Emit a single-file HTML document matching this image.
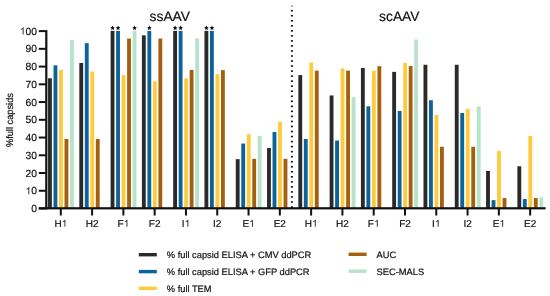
<!DOCTYPE html>
<html><head><meta charset="utf-8"><style>html,body{margin:0;padding:0;background:#fff;}svg{display:block;will-change:transform;}text{font-family:"Liberation Sans", sans-serif;fill:#111;stroke:#111;stroke-width:0.2px;text-rendering:geometricPrecision;}</style></head><body>
<svg width="550" height="296" viewBox="0 0 550 296">
<rect width="550" height="296" fill="#fff"/>
<rect x="48.02" y="78.27" width="3.85" height="130.03" fill="#2a2a2a"/>
<rect x="53.52" y="65.32" width="3.85" height="142.98" fill="#0b639a"/>
<rect x="59.02" y="69.93" width="3.85" height="138.37" fill="#fdcb3c"/>
<rect x="64.52" y="138.94" width="3.85" height="69.36" fill="#a5600f"/>
<rect x="70.02" y="40.12" width="3.85" height="168.18" fill="#b7e2cb"/>
<rect x="79.32" y="63.01" width="3.85" height="145.29" fill="#2a2a2a"/>
<rect x="84.82" y="43.14" width="3.85" height="165.16" fill="#0b639a"/>
<rect x="90.32" y="71.52" width="3.85" height="136.78" fill="#fdcb3c"/>
<rect x="95.82" y="138.94" width="3.85" height="69.36" fill="#a5600f"/>
<rect x="110.61" y="30.9" width="3.85" height="177.4" fill="#2a2a2a"/>
<rect x="116.11" y="30.9" width="3.85" height="177.4" fill="#0b639a"/>
<rect x="121.61" y="75.07" width="3.85" height="133.23" fill="#fdcb3c"/>
<rect x="127.11" y="38.53" width="3.85" height="169.77" fill="#a5600f"/>
<rect x="132.6" y="30.9" width="3.85" height="177.4" fill="#b7e2cb"/>
<rect x="141.9" y="35.34" width="3.85" height="172.97" fill="#2a2a2a"/>
<rect x="147.4" y="30.9" width="3.85" height="177.4" fill="#0b639a"/>
<rect x="152.9" y="81.28" width="3.85" height="127.02" fill="#fdcb3c"/>
<rect x="158.4" y="38.53" width="3.85" height="169.77" fill="#a5600f"/>
<rect x="173.18" y="30.9" width="3.85" height="177.4" fill="#2a2a2a"/>
<rect x="178.68" y="30.9" width="3.85" height="177.4" fill="#0b639a"/>
<rect x="184.18" y="78.27" width="3.85" height="130.03" fill="#fdcb3c"/>
<rect x="189.68" y="69.93" width="3.85" height="138.37" fill="#a5600f"/>
<rect x="195.18" y="38.35" width="3.85" height="169.95" fill="#b7e2cb"/>
<rect x="204.47" y="30.9" width="3.85" height="177.4" fill="#2a2a2a"/>
<rect x="209.97" y="30.9" width="3.85" height="177.4" fill="#0b639a"/>
<rect x="215.47" y="74.19" width="3.85" height="134.11" fill="#fdcb3c"/>
<rect x="220.97" y="70.11" width="3.85" height="138.19" fill="#a5600f"/>
<rect x="235.77" y="159.16" width="3.85" height="49.14" fill="#2a2a2a"/>
<rect x="241.27" y="143.55" width="3.85" height="64.75" fill="#0b639a"/>
<rect x="246.77" y="134.15" width="3.85" height="74.15" fill="#fdcb3c"/>
<rect x="252.27" y="158.81" width="3.85" height="49.49" fill="#a5600f"/>
<rect x="257.77" y="135.92" width="3.85" height="72.38" fill="#b7e2cb"/>
<rect x="267.05" y="147.98" width="3.85" height="60.32" fill="#2a2a2a"/>
<rect x="272.55" y="132.02" width="3.85" height="76.28" fill="#0b639a"/>
<rect x="278.05" y="121.73" width="3.85" height="86.57" fill="#fdcb3c"/>
<rect x="283.55" y="158.81" width="3.85" height="49.49" fill="#a5600f"/>
<rect x="298.34" y="75.07" width="3.85" height="133.23" fill="#2a2a2a"/>
<rect x="303.84" y="138.94" width="3.85" height="69.36" fill="#0b639a"/>
<rect x="309.34" y="62.48" width="3.85" height="145.82" fill="#fdcb3c"/>
<rect x="314.84" y="70.64" width="3.85" height="137.66" fill="#a5600f"/>
<rect x="329.63" y="95.47" width="3.85" height="112.83" fill="#2a2a2a"/>
<rect x="335.13" y="140.53" width="3.85" height="67.77" fill="#0b639a"/>
<rect x="340.63" y="68.33" width="3.85" height="139.97" fill="#fdcb3c"/>
<rect x="346.13" y="70.64" width="3.85" height="137.66" fill="#a5600f"/>
<rect x="351.63" y="97.25" width="3.85" height="111.05" fill="#b7e2cb"/>
<rect x="360.92" y="67.98" width="3.85" height="140.32" fill="#2a2a2a"/>
<rect x="366.42" y="106.3" width="3.85" height="102" fill="#0b639a"/>
<rect x="371.92" y="70.81" width="3.85" height="137.49" fill="#fdcb3c"/>
<rect x="377.42" y="66.2" width="3.85" height="142.1" fill="#a5600f"/>
<rect x="392.21" y="71.88" width="3.85" height="136.42" fill="#2a2a2a"/>
<rect x="397.71" y="110.91" width="3.85" height="97.39" fill="#0b639a"/>
<rect x="403.21" y="63.01" width="3.85" height="145.29" fill="#fdcb3c"/>
<rect x="408.71" y="66.03" width="3.85" height="142.27" fill="#a5600f"/>
<rect x="414.21" y="39.42" width="3.85" height="168.88" fill="#b7e2cb"/>
<rect x="423.5" y="64.78" width="3.85" height="143.52" fill="#2a2a2a"/>
<rect x="429" y="100.26" width="3.85" height="108.04" fill="#0b639a"/>
<rect x="434.5" y="114.99" width="3.85" height="93.31" fill="#fdcb3c"/>
<rect x="440" y="146.74" width="3.85" height="61.56" fill="#a5600f"/>
<rect x="454.79" y="64.78" width="3.85" height="143.52" fill="#2a2a2a"/>
<rect x="460.29" y="113.04" width="3.85" height="95.26" fill="#0b639a"/>
<rect x="465.79" y="108.96" width="3.85" height="99.34" fill="#fdcb3c"/>
<rect x="471.29" y="146.74" width="3.85" height="61.56" fill="#a5600f"/>
<rect x="476.79" y="106.47" width="3.85" height="101.83" fill="#b7e2cb"/>
<rect x="486.08" y="170.87" width="3.85" height="37.43" fill="#2a2a2a"/>
<rect x="491.58" y="200.14" width="3.85" height="8.16" fill="#0b639a"/>
<rect x="497.08" y="150.82" width="3.85" height="57.48" fill="#fdcb3c"/>
<rect x="502.58" y="198.01" width="3.85" height="10.29" fill="#a5600f"/>
<rect x="517.38" y="166.26" width="3.85" height="42.04" fill="#2a2a2a"/>
<rect x="522.88" y="199.08" width="3.85" height="9.22" fill="#0b639a"/>
<rect x="528.38" y="135.92" width="3.85" height="72.38" fill="#fdcb3c"/>
<rect x="533.88" y="198.01" width="3.85" height="10.29" fill="#a5600f"/>
<rect x="539.38" y="197.48" width="3.85" height="10.82" fill="#b7e2cb"/>
<path d="M112.58 25.6 L113.29 27.03 L114.86 27.26 L113.72 28.37 L113.99 29.94 L112.58 29.2 L111.17 29.94 L111.44 28.37 L110.3 27.26 L111.87 27.03Z" fill="#111"/>
<path d="M118.08 25.6 L118.79 27.03 L120.36 27.26 L119.22 28.37 L119.49 29.94 L118.08 29.2 L116.67 29.94 L116.94 28.37 L115.8 27.26 L117.37 27.03Z" fill="#111"/>
<path d="M134.58 25.6 L135.29 27.03 L136.86 27.26 L135.72 28.37 L135.99 29.94 L134.58 29.2 L133.17 29.94 L133.44 28.37 L132.3 27.26 L133.87 27.03Z" fill="#111"/>
<path d="M149.37 25.6 L150.08 27.03 L151.65 27.26 L150.51 28.37 L150.78 29.94 L149.37 29.2 L147.96 29.94 L148.23 28.37 L147.09 27.26 L148.66 27.03Z" fill="#111"/>
<path d="M175.16 25.6 L175.87 27.03 L177.44 27.26 L176.3 28.37 L176.57 29.94 L175.16 29.2 L173.75 29.94 L174.02 28.37 L172.88 27.26 L174.45 27.03Z" fill="#111"/>
<path d="M180.66 25.6 L181.37 27.03 L182.94 27.26 L181.8 28.37 L182.07 29.94 L180.66 29.2 L179.25 29.94 L179.52 28.37 L178.38 27.26 L179.95 27.03Z" fill="#111"/>
<path d="M206.45 25.6 L207.16 27.03 L208.73 27.26 L207.59 28.37 L207.86 29.94 L206.45 29.2 L205.04 29.94 L205.31 28.37 L204.17 27.26 L205.74 27.03Z" fill="#111"/>
<path d="M211.95 25.6 L212.66 27.03 L214.23 27.26 L213.09 28.37 L213.36 29.94 L211.95 29.2 L210.54 29.94 L210.81 28.37 L209.67 27.26 L211.24 27.03Z" fill="#111"/>
<rect x="290.9" y="5.3" width="2" height="1.6" fill="#111" opacity="0.4"/>
<rect x="290.9" y="9.9" width="2" height="1.6" fill="#111" opacity="1"/>
<rect x="290.9" y="14.93" width="2" height="1.6" fill="#111" opacity="1"/>
<rect x="290.9" y="19.97" width="2" height="1.6" fill="#111" opacity="1"/>
<rect x="290.9" y="25" width="2" height="1.6" fill="#111" opacity="1"/>
<rect x="290.9" y="30.04" width="2" height="1.6" fill="#111" opacity="1"/>
<rect x="290.9" y="35.07" width="2" height="1.6" fill="#111" opacity="1"/>
<rect x="290.9" y="40.1" width="2" height="1.6" fill="#111" opacity="1"/>
<rect x="290.9" y="45.14" width="2" height="1.6" fill="#111" opacity="1"/>
<rect x="290.9" y="50.17" width="2" height="1.6" fill="#111" opacity="1"/>
<rect x="290.9" y="55.21" width="2" height="1.6" fill="#111" opacity="1"/>
<rect x="290.9" y="60.24" width="2" height="1.6" fill="#111" opacity="1"/>
<rect x="290.9" y="65.27" width="2" height="1.6" fill="#111" opacity="1"/>
<rect x="290.9" y="70.31" width="2" height="1.6" fill="#111" opacity="1"/>
<rect x="290.9" y="75.34" width="2" height="1.6" fill="#111" opacity="1"/>
<rect x="290.9" y="80.38" width="2" height="1.6" fill="#111" opacity="1"/>
<rect x="290.9" y="85.41" width="2" height="1.6" fill="#111" opacity="1"/>
<rect x="290.9" y="90.44" width="2" height="1.6" fill="#111" opacity="1"/>
<rect x="290.9" y="95.48" width="2" height="1.6" fill="#111" opacity="1"/>
<rect x="290.9" y="100.51" width="2" height="1.6" fill="#111" opacity="1"/>
<rect x="290.9" y="105.55" width="2" height="1.6" fill="#111" opacity="1"/>
<rect x="290.9" y="110.58" width="2" height="1.6" fill="#111" opacity="1"/>
<rect x="290.9" y="115.61" width="2" height="1.6" fill="#111" opacity="1"/>
<rect x="290.9" y="120.65" width="2" height="1.6" fill="#111" opacity="1"/>
<rect x="290.9" y="125.68" width="2" height="1.6" fill="#111" opacity="1"/>
<rect x="290.9" y="130.72" width="2" height="1.6" fill="#111" opacity="1"/>
<rect x="290.9" y="135.75" width="2" height="1.6" fill="#111" opacity="1"/>
<rect x="290.9" y="140.78" width="2" height="1.6" fill="#111" opacity="1"/>
<rect x="290.9" y="145.82" width="2" height="1.6" fill="#111" opacity="1"/>
<rect x="290.9" y="150.85" width="2" height="1.6" fill="#111" opacity="1"/>
<rect x="290.9" y="155.89" width="2" height="1.6" fill="#111" opacity="1"/>
<rect x="290.9" y="160.92" width="2" height="1.6" fill="#111" opacity="1"/>
<rect x="290.9" y="165.95" width="2" height="1.6" fill="#111" opacity="1"/>
<rect x="290.9" y="170.99" width="2" height="1.6" fill="#111" opacity="1"/>
<rect x="290.9" y="176.02" width="2" height="1.6" fill="#111" opacity="1"/>
<rect x="290.9" y="181.06" width="2" height="1.6" fill="#111" opacity="1"/>
<rect x="290.9" y="186.09" width="2" height="1.6" fill="#111" opacity="1"/>
<rect x="290.9" y="191.12" width="2" height="1.6" fill="#111" opacity="1"/>
<rect x="290.9" y="196.16" width="2" height="1.6" fill="#111" opacity="1"/>
<rect x="290.9" y="201.19" width="2" height="1.6" fill="#111" opacity="1"/>
<rect x="290.9" y="206.23" width="2" height="1.6" fill="#111" opacity="1"/>
<rect x="45.2" y="30.1" width="2.2" height="179.3" fill="#111"/>
<rect x="38.8" y="207.2" width="506.8" height="2.2" fill="#111"/>
<rect x="38.8" y="207.5" width="7" height="2" fill="#111"/>
<text x="36.9" y="212" font-size="10.3" text-anchor="end">0</text>
<rect x="38.8" y="189.76" width="7" height="2" fill="#111"/>
<path transform="translate(25.45 194.26) scale(10.3 -10.3)" d="M0.373 0L0.285 0L0.285 0.56Q0.253 0.53 0.2 0.498Q0.148 0.466 0.109 0.445L0.109 0.53Q0.183 0.565 0.239 0.618Q0.305 0.67 0.332 0.716L0.373 0.716Z" fill="#1a1a1a"/>
<text x="31.17" y="194.26" font-size="10.3">0</text>
<rect x="38.8" y="172.02" width="7" height="2" fill="#111"/>
<text x="36.9" y="176.52" font-size="10.3" text-anchor="end">20</text>
<rect x="38.8" y="154.28" width="7" height="2" fill="#111"/>
<text x="36.9" y="158.78" font-size="10.3" text-anchor="end">30</text>
<rect x="38.8" y="136.54" width="7" height="2" fill="#111"/>
<text x="36.9" y="141.04" font-size="10.3" text-anchor="end">40</text>
<rect x="38.8" y="118.8" width="7" height="2" fill="#111"/>
<text x="36.9" y="123.3" font-size="10.3" text-anchor="end">50</text>
<rect x="38.8" y="101.06" width="7" height="2" fill="#111"/>
<text x="36.9" y="105.56" font-size="10.3" text-anchor="end">60</text>
<rect x="38.8" y="83.32" width="7" height="2" fill="#111"/>
<text x="36.9" y="87.82" font-size="10.3" text-anchor="end">70</text>
<rect x="38.8" y="65.58" width="7" height="2" fill="#111"/>
<text x="36.9" y="70.08" font-size="10.3" text-anchor="end">80</text>
<rect x="38.8" y="47.84" width="7" height="2" fill="#111"/>
<text x="36.9" y="52.34" font-size="10.3" text-anchor="end">90</text>
<rect x="38.8" y="30.1" width="7" height="2" fill="#111"/>
<path transform="translate(19.72 34.6) scale(10.3 -10.3)" d="M0.373 0L0.285 0L0.285 0.56Q0.253 0.53 0.2 0.498Q0.148 0.466 0.109 0.445L0.109 0.53Q0.183 0.565 0.239 0.618Q0.305 0.67 0.332 0.716L0.373 0.716Z" fill="#1a1a1a"/>
<text x="25.45" y="34.6" font-size="10.3">00</text>
<rect x="59.8" y="208" width="2" height="7.5" fill="#111"/>
<text x="54.41" y="226.8" font-size="10">H</text>
<path transform="translate(61.63 226.8) scale(10 -10)" d="M0.373 0L0.285 0L0.285 0.56Q0.253 0.53 0.2 0.498Q0.148 0.466 0.109 0.445L0.109 0.53Q0.183 0.565 0.239 0.618Q0.305 0.67 0.332 0.716L0.373 0.716Z" fill="#1a1a1a"/>
<rect x="91.09" y="208" width="2" height="7.5" fill="#111"/>
<text x="92.09" y="226.8" font-size="10" text-anchor="middle">H2</text>
<rect x="122.38" y="208" width="2" height="7.5" fill="#111"/>
<text x="117.55" y="226.8" font-size="10">F</text>
<path transform="translate(123.66 226.8) scale(10 -10)" d="M0.373 0L0.285 0L0.285 0.56Q0.253 0.53 0.2 0.498Q0.148 0.466 0.109 0.445L0.109 0.53Q0.183 0.565 0.239 0.618Q0.305 0.67 0.332 0.716L0.373 0.716Z" fill="#1a1a1a"/>
<rect x="153.67" y="208" width="2" height="7.5" fill="#111"/>
<text x="154.67" y="226.8" font-size="10" text-anchor="middle">F2</text>
<rect x="184.96" y="208" width="2" height="7.5" fill="#111"/>
<text x="181.79" y="226.8" font-size="10">I</text>
<path transform="translate(184.57 226.8) scale(10 -10)" d="M0.373 0L0.285 0L0.285 0.56Q0.253 0.53 0.2 0.498Q0.148 0.466 0.109 0.445L0.109 0.53Q0.183 0.565 0.239 0.618Q0.305 0.67 0.332 0.716L0.373 0.716Z" fill="#1a1a1a"/>
<rect x="216.25" y="208" width="2" height="7.5" fill="#111"/>
<text x="217.25" y="226.8" font-size="10" text-anchor="middle">I2</text>
<rect x="247.54" y="208" width="2" height="7.5" fill="#111"/>
<text x="242.43" y="226.8" font-size="10">E</text>
<path transform="translate(249.09 226.8) scale(10 -10)" d="M0.373 0L0.285 0L0.285 0.56Q0.253 0.53 0.2 0.498Q0.148 0.466 0.109 0.445L0.109 0.53Q0.183 0.565 0.239 0.618Q0.305 0.67 0.332 0.716L0.373 0.716Z" fill="#1a1a1a"/>
<rect x="278.83" y="208" width="2" height="7.5" fill="#111"/>
<text x="279.83" y="226.8" font-size="10" text-anchor="middle">E2</text>
<rect x="310.12" y="208" width="2" height="7.5" fill="#111"/>
<text x="304.73" y="226.8" font-size="10">H</text>
<path transform="translate(311.95 226.8) scale(10 -10)" d="M0.373 0L0.285 0L0.285 0.56Q0.253 0.53 0.2 0.498Q0.148 0.466 0.109 0.445L0.109 0.53Q0.183 0.565 0.239 0.618Q0.305 0.67 0.332 0.716L0.373 0.716Z" fill="#1a1a1a"/>
<rect x="341.41" y="208" width="2" height="7.5" fill="#111"/>
<text x="342.41" y="226.8" font-size="10" text-anchor="middle">H2</text>
<rect x="372.7" y="208" width="2" height="7.5" fill="#111"/>
<text x="367.87" y="226.8" font-size="10">F</text>
<path transform="translate(373.98 226.8) scale(10 -10)" d="M0.373 0L0.285 0L0.285 0.56Q0.253 0.53 0.2 0.498Q0.148 0.466 0.109 0.445L0.109 0.53Q0.183 0.565 0.239 0.618Q0.305 0.67 0.332 0.716L0.373 0.716Z" fill="#1a1a1a"/>
<rect x="403.99" y="208" width="2" height="7.5" fill="#111"/>
<text x="404.99" y="226.8" font-size="10" text-anchor="middle">F2</text>
<rect x="435.28" y="208" width="2" height="7.5" fill="#111"/>
<text x="432.11" y="226.8" font-size="10">I</text>
<path transform="translate(434.89 226.8) scale(10 -10)" d="M0.373 0L0.285 0L0.285 0.56Q0.253 0.53 0.2 0.498Q0.148 0.466 0.109 0.445L0.109 0.53Q0.183 0.565 0.239 0.618Q0.305 0.67 0.332 0.716L0.373 0.716Z" fill="#1a1a1a"/>
<rect x="466.57" y="208" width="2" height="7.5" fill="#111"/>
<text x="467.57" y="226.8" font-size="10" text-anchor="middle">I2</text>
<rect x="497.86" y="208" width="2" height="7.5" fill="#111"/>
<text x="492.75" y="226.8" font-size="10">E</text>
<path transform="translate(499.42 226.8) scale(10 -10)" d="M0.373 0L0.285 0L0.285 0.56Q0.253 0.53 0.2 0.498Q0.148 0.466 0.109 0.445L0.109 0.53Q0.183 0.565 0.239 0.618Q0.305 0.67 0.332 0.716L0.373 0.716Z" fill="#1a1a1a"/>
<rect x="529.15" y="208" width="2" height="7.5" fill="#111"/>
<text x="530.15" y="226.8" font-size="10" text-anchor="middle">E2</text>
<text x="149.6" y="20.8" font-size="13.8" stroke="#1a1a1a" stroke-width="0.3">ssAAV</text>
<text x="379.1" y="20.8" font-size="13.8" stroke="#1a1a1a" stroke-width="0.3">scAAV</text>
<text transform="translate(13.2,120.1) rotate(-90) scale(0.955,1)" font-size="9.7" text-anchor="middle">%full capsids</text>
<rect x="138.8" y="253" width="18" height="3.4" fill="#2a2a2a"/>
<text x="166.8" y="258.1" font-size="9.3">% full capsid ELISA + CMV ddPCR</text>
<rect x="138.8" y="269.9" width="18" height="3.4" fill="#0b639a"/>
<text x="166.8" y="275" font-size="9.3">% full capsid ELISA + GFP ddPCR</text>
<rect x="138.8" y="286.6" width="18" height="3.4" fill="#fdcb3c"/>
<text x="166.8" y="291.7" font-size="9.3">% full TEM</text>
<rect x="348.6" y="252.6" width="18" height="3.4" fill="#a5600f"/>
<text x="376.6" y="257.7" font-size="9.3">AUC</text>
<rect x="348.6" y="269.5" width="18" height="3.4" fill="#b7e2cb"/>
<text x="376.6" y="274.6" font-size="9.3">SEC-MALS</text>
</svg></body></html>
